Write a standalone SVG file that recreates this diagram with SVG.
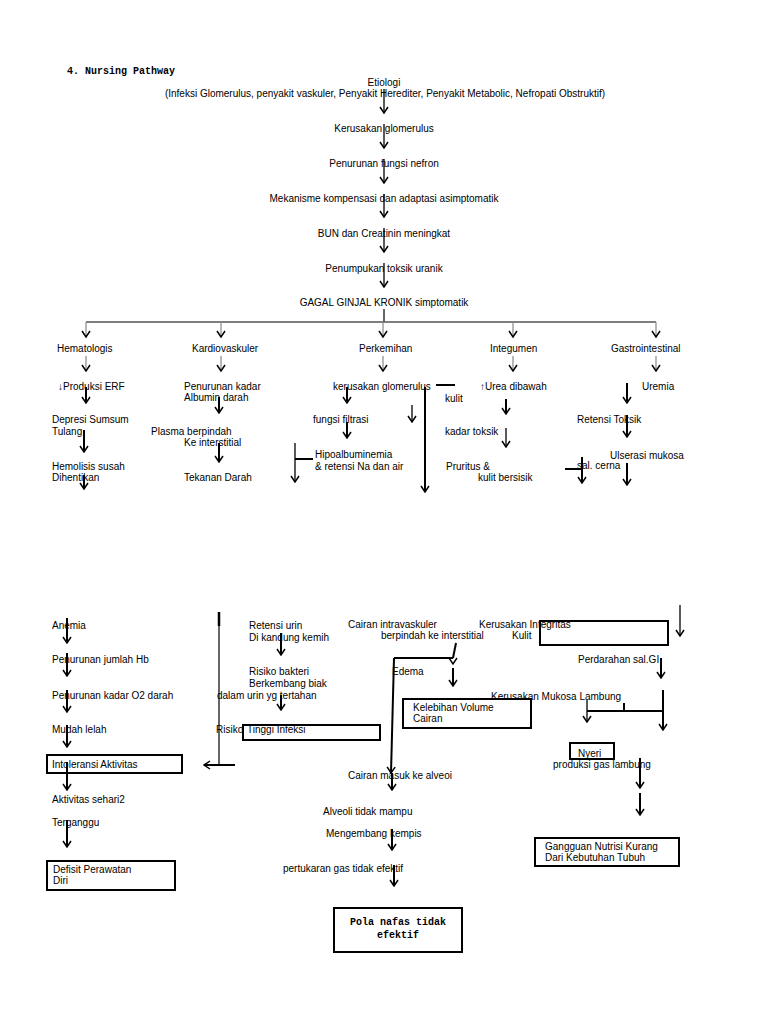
<svg xmlns="http://www.w3.org/2000/svg" width="768" height="1024" viewBox="0 0 768 1024">
<style>
.t{font-family:"Liberation Sans",Arial,sans-serif;font-size:10px;fill:#000}
.c{text-anchor:middle}
.m{font-family:"Liberation Mono","Courier New",monospace;font-size:10px;font-weight:bold;fill:#000}
.a{stroke:#000;stroke-width:1.3;fill:none;marker-end:url(#v)}
.k{stroke:#000;stroke-width:2;fill:none;marker-end:url(#v)}
.g{stroke:#888;stroke-width:1.2;fill:none;marker-end:url(#v)}
.l{stroke:#000;stroke-width:2;fill:none}
.lt{stroke:#000;stroke-width:1.2;fill:none}
.b{fill:#fff;stroke:#000;stroke-width:2}
</style>
<defs>
<marker id="v" viewBox="-8 -5 9 10" markerWidth="9" markerHeight="10" refX="0" refY="0" orient="auto" markerUnits="userSpaceOnUse">
<path d="M-6,-4 L0,0 L-6,4" fill="none" stroke="#000" stroke-width="1.5"/>
</marker>
</defs>
<rect width="768" height="1024" fill="#fff"/>

<g id="title"><text class="m" x="67" y="74">4. Nursing Pathway</text></g>

<g id="boxes">
<rect class="b" x="47" y="755" width="135" height="18"/>
<rect class="b" x="47" y="861" width="128" height="29"/>
<rect class="b" x="243" y="725" width="137" height="15"/>
<rect class="b" x="540" y="621" width="128" height="24"/>
<rect class="b" x="403" y="699" width="128" height="29"/>
<rect class="b" x="570" y="743" width="44" height="16"/>
<rect class="b" x="535" y="838" width="144" height="28"/>
<rect class="b" x="334" y="908" width="128" height="44"/>
</g>

<g id="connectors">
<!-- top chain -->
<line class="a" x1="384" y1="89" x2="384" y2="113"/>
<line class="a" x1="384" y1="124" x2="384" y2="148"/>
<line class="a" x1="384" y1="159" x2="384" y2="183"/>
<line class="a" x1="384" y1="194" x2="384" y2="217"/>
<line class="a" x1="384" y1="228" x2="384" y2="252"/>
<line class="a" x1="384" y1="263" x2="384" y2="287"/>
<line class="lt" x1="384" y1="309" x2="384" y2="322"/>
<line stroke="#555" stroke-width="1.3" x1="86" y1="322" x2="656" y2="322"/>
<line class="g" x1="86" y1="322" x2="86" y2="337"/>
<line class="g" x1="221" y1="322" x2="221" y2="337"/>
<line class="g" x1="383" y1="322" x2="383" y2="337"/>
<line class="g" x1="513" y1="322" x2="513" y2="337"/>
<line class="g" x1="656" y1="322" x2="656" y2="337"/>
<!-- from category labels -->
<line class="g" x1="86" y1="356" x2="86" y2="371"/>
<line class="g" x1="221" y1="356" x2="221" y2="371"/>
<line class="g" x1="383" y1="356" x2="383" y2="371"/>
<line class="g" x1="513" y1="356" x2="513" y2="371"/>
<line class="g" x1="656" y1="356" x2="656" y2="371"/>
<!-- row 2 to 3 -->
<line class="k" x1="86" y1="387" x2="86" y2="403"/>
<line class="k" x1="219" y1="397" x2="219" y2="413"/>
<line class="k" x1="347" y1="387" x2="347" y2="403"/>
<line class="a" x1="412" y1="405" x2="412" y2="422"/>
<line class="k" x1="425" y1="387" x2="425" y2="492"/>
<line class="l" x1="436" y1="385" x2="455" y2="385"/>
<line class="k" x1="506" y1="399" x2="506" y2="414"/>
<line class="k" x1="627" y1="383" x2="627" y2="403"/>
<!-- row 3 to 4 -->
<line class="k" x1="84" y1="430" x2="84" y2="452"/>
<line class="k" x1="219" y1="443" x2="219" y2="462"/>
<line class="k" x1="347" y1="422" x2="347" y2="438"/>
<line class="a" x1="506" y1="428" x2="506" y2="447"/>
<line class="k" x1="627" y1="415" x2="627" y2="437"/>
<!-- row 4 -->
<line class="k" x1="84" y1="475" x2="84" y2="489"/>
<line class="a" x1="295" y1="443" x2="295" y2="482"/>
<line class="l" x1="295" y1="459" x2="313" y2="459"/>
<line class="l" x1="565" y1="469" x2="583" y2="469"/>
<line class="k" x1="582" y1="457" x2="582" y2="483"/>
<line class="k" x1="627" y1="463" x2="627" y2="485"/>
<!-- lower left column -->
<line class="k" x1="67" y1="618" x2="67" y2="643"/>
<line class="k" x1="67" y1="653" x2="67" y2="676"/>
<line class="k" x1="67" y1="690" x2="67" y2="712"/>
<line class="k" x1="67" y1="725" x2="67" y2="747"/>
<line class="k" x1="67" y1="762" x2="67" y2="790"/>
<line class="k" x1="67" y1="820" x2="67" y2="847"/>
<!-- long left bracket -->
<line class="lt" x1="219" y1="612" x2="219" y2="765"/>
<line stroke="#000" stroke-width="2.5" x1="219" y1="612" x2="219" y2="626"/>
<line class="k" x1="235" y1="765" x2="204" y2="765"/>
<!-- retensi urin -->
<line class="k" x1="281" y1="633" x2="281" y2="655"/>
<line class="k" x1="281" y1="695" x2="281" y2="710"/>
<!-- edema -->
<line class="l" x1="456" y1="643" x2="453" y2="658"/>
<line class="l" x1="394" y1="658" x2="453" y2="658"/>
<path d="M449,658 L453,664 L457,658" fill="none" stroke="#000" stroke-width="1.5"/>
<line class="k" x1="394" y1="658" x2="391" y2="773"/>
<line class="k" x1="453" y1="668" x2="453" y2="686"/>
<!-- gastro lower -->
<line class="a" x1="680" y1="605" x2="680" y2="636"/>
<line class="k" x1="661" y1="658" x2="661" y2="678"/>
<line class="k" x1="663" y1="690" x2="663" y2="730"/>
<line class="l" x1="587" y1="711" x2="663" y2="711"/>
<line class="a" x1="587" y1="700" x2="587" y2="722"/>
<line class="l" x1="624" y1="703" x2="624" y2="711"/>
<line class="k" x1="640" y1="758" x2="640" y2="788"/>
<line class="k" x1="640" y1="793" x2="640" y2="815"/>
<!-- alveoli chain -->
<line class="k" x1="392" y1="773" x2="392" y2="790"/>
<line class="k" x1="392" y1="829" x2="392" y2="850"/>
<line class="k" x1="394" y1="865" x2="394" y2="886"/>
</g>

<g id="n-etiologi"><text class="t c" x="384" y="86">Etiologi</text><text class="t c" x="385" y="97">(Infeksi Glomerulus, penyakit vaskuler, Penyakit Herediter, Penyakit Metabolic, Nefropati Obstruktif)</text></g>
<g id="n-kerusakan"><text class="t c" x="384" y="132">Kerusakan glomerulus</text></g>
<g id="n-nefron"><text class="t c" x="384" y="167">Penurunan fungsi nefron</text></g>
<g id="n-mekanisme"><text class="t c" x="384" y="202">Mekanisme kompensasi dan adaptasi asimptomatik</text></g>
<g id="n-bun"><text class="t c" x="384" y="237">BUN dan Creatinin meningkat</text></g>
<g id="n-toksik"><text class="t c" x="384" y="272">Penumpukan toksik uranik</text></g>
<g id="n-ggk"><text class="t c" x="384" y="306">GAGAL GINJAL KRONIK simptomatik</text></g>

<g id="n-hematologis"><text class="t" x="57" y="352">Hematologis</text></g>
<g id="n-kardio"><text class="t" x="192" y="352">Kardiovaskuler</text></g>
<g id="n-perkemihan"><text class="t" x="359" y="352">Perkemihan</text></g>
<g id="n-integumen"><text class="t" x="490" y="352">Integumen</text></g>
<g id="n-gastro"><text class="t" x="611" y="352">Gastrointestinal</text></g>

<g id="n-erf"><text class="t" x="58" y="390">↓Produksi ERF</text></g>
<g id="n-albumin"><text class="t" x="184" y="390">Penurunan kadar</text><text class="t" x="184" y="401">Albumin darah</text></g>
<g id="n-kerusakan2"><text class="t" x="333" y="390">kerusakan glomerulus</text></g>
<g id="n-kulit"><text class="t" x="445" y="402">kulit</text></g>
<g id="n-urea"><text class="t" x="480" y="390">↑Urea dibawah</text></g>
<g id="n-uremia"><text class="t" x="642" y="390">Uremia</text></g>

<g id="n-depresi"><text class="t" x="52" y="423">Depresi Sumsum</text><text class="t" x="52" y="435">Tulang</text></g>
<g id="n-plasma"><text class="t" x="151" y="435">Plasma berpindah</text><text class="t" x="184" y="446">Ke interstitial</text></g>
<g id="n-filtrasi"><text class="t" x="313" y="423">fungsi filtrasi</text></g>
<g id="n-kadartoksik"><text class="t" x="445" y="435">kadar toksik</text></g>
<g id="n-retensitoksik"><text class="t" x="577" y="423">Retensi Toksik</text></g>

<g id="n-hemolisis"><text class="t" x="52" y="470">Hemolisis susah</text><text class="t" x="52" y="481">Dihentikan</text></g>
<g id="n-tekanan"><text class="t" x="184" y="481">Tekanan Darah</text></g>
<g id="n-hipoalb"><text class="t" x="315" y="458">Hipoalbuminemia</text><text class="t" x="315" y="470">&amp; retensi Na dan air</text></g>
<g id="n-pruritus"><text class="t" x="446" y="470">Pruritus &amp;</text><text class="t" x="478" y="481">kulit bersisik</text></g>
<g id="n-ulserasi"><text class="t" x="610" y="459">Ulserasi mukosa</text><text class="t" x="577" y="469">sal. cerna</text></g>

<g id="n-anemia"><text class="t" x="52" y="629">Anemia</text></g>
<g id="n-hb"><text class="t" x="52" y="663">Penurunan jumlah Hb</text></g>
<g id="n-o2"><text class="t" x="52" y="699">Penurunan kadar O2 darah</text></g>
<g id="n-lelah"><text class="t" x="52" y="733">Mudah lelah</text></g>
<g id="n-intoleransi"><text class="t" x="52" y="768">Intoleransi Aktivitas</text></g>
<g id="n-aktivitas"><text class="t" x="52" y="803">Aktivitas sehari2</text><text class="t" x="52" y="826">Terganggu</text></g>
<g id="n-defisit"><text class="t" x="53" y="873">Defisit Perawatan</text><text class="t" x="53" y="884">Diri</text></g>

<g id="n-retensiurin"><text class="t" x="249" y="629">Retensi urin</text><text class="t" x="249" y="641">Di kandung kemih</text></g>
<g id="n-bakteri"><text class="t" x="249" y="675">Risiko bakteri</text><text class="t" x="249" y="687">Berkembang biak</text><text class="t" x="217" y="699">dalam urin yg tertahan</text></g>
<g id="n-infeksi"><text class="t" x="216" y="733">Risiko</text><text class="t" x="247" y="733">Tinggi Infeksi</text></g>

<g id="n-cairan"><text class="t" x="348" y="628">Cairan intravaskuler</text><text class="t" x="381" y="639">berpindah ke interstitial</text></g>
<g id="n-integritas"><text class="t" x="479" y="628">Kerusakan Integritas</text><text class="t" x="512" y="639">Kulit</text></g>
<g id="n-edema"><text class="t" x="392" y="675">Edema</text></g>
<g id="n-kelebihan"><text class="t" x="413" y="711">Kelebihan Volume</text><text class="t" x="413" y="722">Cairan</text></g>
<g id="n-perdarahan"><text class="t" x="578" y="663">Perdarahan sal.GI</text></g>
<g id="n-mukosa"><text class="t" x="491" y="700">Kerusakan Mukosa Lambung</text></g>
<g id="n-nyeri"><text class="t" x="578" y="757">Nyeri</text></g>
<g id="n-gas"><text class="t" x="553" y="768">produksi gas lambung</text></g>
<g id="n-nutrisi"><text class="t" x="545" y="850">Gangguan Nutrisi Kurang</text><text class="t" x="545" y="861">Dari Kebutuhan Tubuh</text></g>

<g id="n-alveoi"><text class="t" x="348" y="779">Cairan masuk ke alveoi</text></g>
<g id="n-alveoli"><text class="t" x="323" y="815">Alveoli tidak mampu</text><text class="t" x="326" y="837">Mengembang kempis</text></g>
<g id="n-pertukaran"><text class="t" x="283" y="872">pertukaran gas tidak efektif</text></g>
<g id="n-pola"><text class="m c" x="398" y="925" font-weight="normal">Pola nafas tidak</text><text class="m c" x="398" y="938" font-weight="normal">efektif</text></g>
</svg>
